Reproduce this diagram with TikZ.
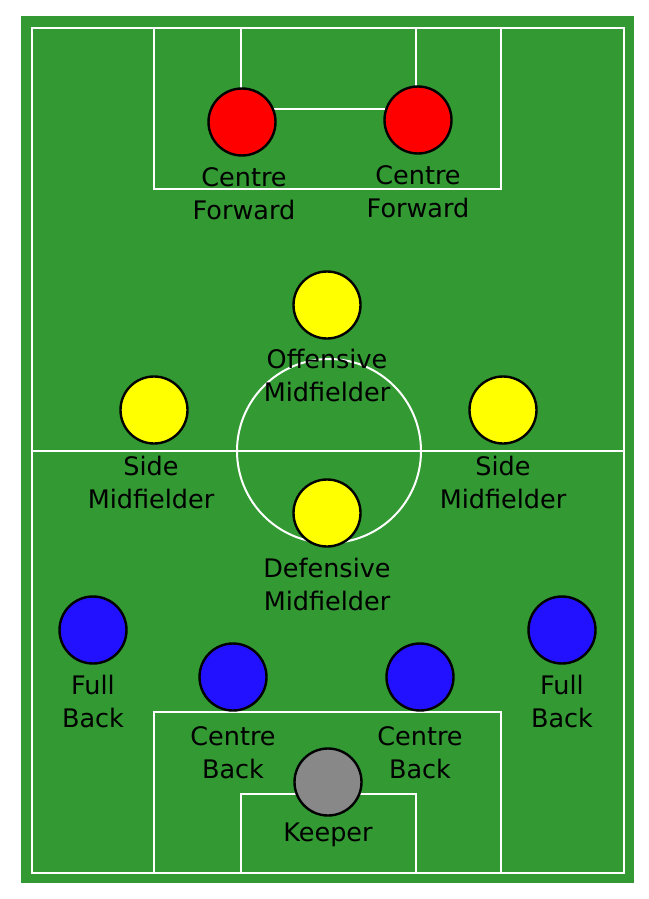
\documentclass[tikz,border=0pt]{standalone}
\usepackage{fontspec}
\setmainfont{DejaVu Sans}
\usepackage{xcolor}
\usetikzlibrary{positioning}
\definecolor{pitch}{HTML}{339933}
\definecolor{forward}{HTML}{FF0000}
\definecolor{midfield}{HTML}{FFFF00}
\definecolor{defence}{HTML}{2211FF}
\definecolor{keeper}{HTML}{888888}

\begin{document}
\begin{tikzpicture}[x=1pt, y=-1pt,
  line/.style={draw=white, line width=2pt},
  player/.style={circle, draw=black, line width=2.4pt, minimum size=67pt, inner sep=0pt},
  role/.style={align=center, inner sep=0pt, outer sep=0pt,
    font=\fontsize{25.5}{33}\selectfont}]
  \useasboundingbox (0,0) rectangle (648,899);
  \fill[pitch] (21,16) rectangle (634,883);
  \draw[line] (32,28) rectangle (624,873);
  \draw[line] (32,451) coordinate (half left) -- (624,451) coordinate (half right);
  \draw[line] (329,451) circle[radius=92pt];
  \draw[line]
    (154,28) rectangle (501,189)
    (241,28) rectangle (416,109)
  ;
  \draw[line]
    (154,873) rectangle (501,712)
    (241,873) rectangle (416,794)
  ;
  \node[player, fill=forward] (cf left) at (242,122) {};
  \node[player, fill=forward] (cf right) at (418,120) {};
  \node[player, fill=midfield] (om) at (327,305) {};
  \node[player, fill=midfield] (sm left) at (154,410) {};
  \node[player, fill=midfield] (sm right) at (503,410) {};
  \node[player, fill=midfield] (dm) at (327,513) {};
  \node[player, fill=defence] (fb left) at (93,630) {};
  \node[player, fill=defence] (cb left) at (233,677) {};
  \node[player, fill=defence] (cb right) at (420,677) {};
  \node[player, fill=defence] (fb right) at (562,630) {};
  \node[player, fill=keeper] (gk) at (328,782) {};
  \node[role, below=11pt of cf left, xshift=2pt] {Centre\\Forward};
  \node[role, below=11pt of cf right] {Centre\\Forward};
  \node[role, below=9pt of om] {Offensive\\Midfielder};
  \node[role, below=11pt of sm left, xshift=-3pt] {Side\\Midfielder};
  \node[role, below=11pt of sm right] {Side\\Midfielder};
  \node[role, below=10pt of dm] {Defensive\\Midfielder};
  \node[role, below=10pt of fb left] {Full\\Back};
  \node[role, below=10pt of fb right] {Full\\Back};
  \node[role, below=15pt of cb left] {Centre\\Back};
  \node[role, below=15pt of cb right] {Centre\\Back};
  \node[role, below=6pt of gk] {Keeper};
\end{tikzpicture}
\end{document}
